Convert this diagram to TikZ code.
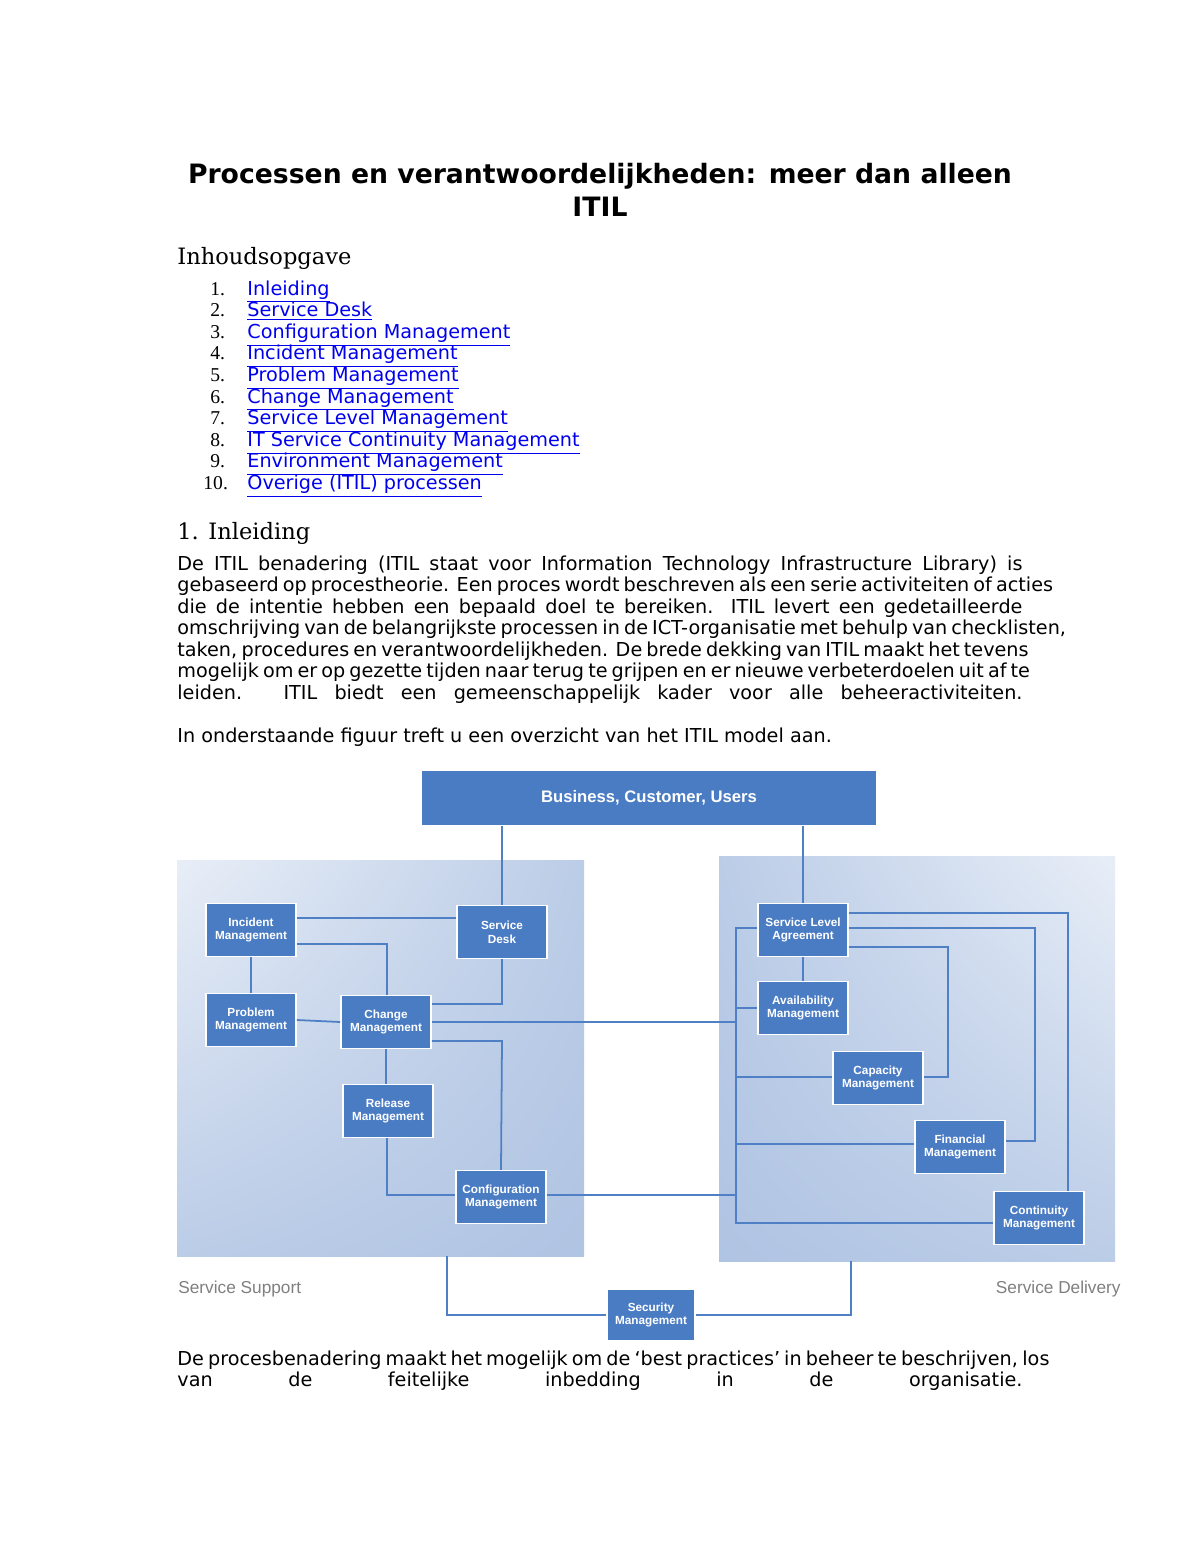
\documentclass[tikz,border=0pt]{standalone}
\usepackage{fontspec}
\usetikzlibrary{shadings}
\setmainfont{DejaVu Sans}
\newfontfamily\ser{Liberation Serif}
\newfontfamily\hser{DejaVu Serif}
\newfontfamily\ar{Liberation Sans}
\definecolor{boxc}{HTML}{4A7CC4}
\definecolor{linec}{HTML}{4F7FC4}
\definecolor{lnk}{HTML}{0000EE}
\definecolor{pl}{HTML}{E8EEF7}
\definecolor{pd}{HTML}{B0C4E3}
\tikzset{
 bx/.style={draw=white,line width=0.8pt,fill=boxc,text=white,font=\ar\bfseries\fontsize{6}{7}\selectfont,align=center,inner sep=0pt},
 ln/.style={draw=linec,line width=0.9pt},
 body/.style={anchor=base west,inner sep=0pt,font=\fontsize{9.8}{11}\selectfont},
 li/.style={anchor=base west,inner sep=0pt,font=\fontsize{9.8}{11}\selectfont,text=lnk},
 num/.style={anchor=base west,inner sep=0pt,font=\ser\fontsize{10}{11}\selectfont}
}
\newcommand{\jl}[1]{\makebox[431pt][s]{#1}}
\begin{document}
\begin{tikzpicture}[x=0.51pt,y=-0.51pt]
\useasboundingbox (0,0) rectangle (1200,1553);
\fill[white] (0,0) rectangle (1200,1553);
% title
\node[anchor=base,inner sep=0pt,font=\bfseries\fontsize{13.6}{16}\selectfont] (t1) at (600,184) {Processen en verantwoordelijkheden: meer dan alleen};
\node[anchor=base,inner sep=0pt,font=\bfseries\fontsize{13.6}{16}\selectfont] (t2) at (600,217) {ITIL};
\node[anchor=base west,inner sep=0pt,font=\hser\fontsize{11.5}{14}\selectfont] (h1) at (177,265) {Inhoudsopgave};
% list
\foreach \n/\t [count=\i] in {1/Inleiding,2/Service Desk,3/Configuration Management,4/Incident Management,5/Problem Management,6/Change Management,7/Service Level Management,8/IT Service Continuity Management,9/Environment Management,10/Overige (ITIL) processen}{
 \node[num] (n\i) at ({\i==10 ? 203 : 210},{295+21.6*(\i-1)}) {\n.};
 \node[li] (l\i) at (247,{295+21.6*(\i-1)}) {\underline{\t}};
}
\node[anchor=base west,inner sep=0pt,font=\hser\fontsize{11.5}{14}\selectfont] (h2) at (177,539) {1. Inleiding};
\node[body] (p1) at (177,570) {\jl{De ITIL benadering (ITIL staat voor Information Technology Infrastructure Library) is}};
\node[body] (p2) at (177,591.5) {\jl{gebaseerd op procestheorie. Een proces wordt beschreven als een serie activiteiten of acties}};
\node[body] (p3) at (177,613) {\jl{die de intentie hebben een bepaald doel te bereiken. ITIL levert een gedetailleerde}};
\node[body] (p4) at (177,634.5) {\jl{omschrijving van de belangrijkste processen in de ICT-organisatie met behulp van checklisten,}};
\node[body] (p5) at (177,656) {\jl{taken, procedures en verantwoordelijkheden. De brede dekking van ITIL maakt het tevens}};
\node[body] (p6) at (177,677.5) {\jl{mogelijk om er op gezette tijden naar terug te grijpen en er nieuwe verbeterdoelen uit af te}};
\node[body] (p7) at (177,699) {\jl{leiden. ITIL biedt een gemeenschappelijk kader voor alle beheeractiviteiten.}};
\node[body] (p8) at (177,742) {In onderstaande figuur treft u een overzicht van het ITIL model aan.};
% panels
\shade[upper left=pl,upper right=pd!80!pl,lower left=pd!80!pl,lower right=pd] (177,860) rectangle (584,1256);
\shade[upper left=pd!80!pl,upper right=pl,lower left=pd,lower right=pd!80!pl] (719,856) rectangle (1115,1261);
\node[anchor=base west,inner sep=0pt,font=\ar\fontsize{8.8}{10}\selectfont,text=gray] (ss) at (178,1293) {Service Support};
\node[anchor=base east,inner sep=0pt,font=\ar\fontsize{8.8}{10}\selectfont,text=gray] (sd) at (1121,1293) {Service Delivery};
% boxes
\node[bx,minimum width=232pt,minimum height=28pt,font=\ar\bfseries\fontsize{8.5}{10}\selectfont] (bcu) at (649,798) {Business, Customer, Users};
\tikzset{s/.style={minimum width=46pt,minimum height=27pt}}
\node[bx,s] (inc) at (251,930) {Incident\\Management};
\node[bx,s] (desk) at (502,932) {Service\\Desk};
\node[bx,s] (prob) at (251,1020) {Problem\\Management};
\node[bx,s] (chg) at (386,1022) {Change\\Management};
\node[bx,s] (rel) at (388,1111) {Release\\Management};
\node[bx,s] (cfg) at (501,1197) {Configuration\\Management};
\node[bx,s] (sla) at (803,930) {Service Level\\Agreement};
\node[bx,s] (avl) at (803,1008) {Availability\\Management};
\node[bx,s] (cap) at (878,1078) {Capacity\\Management};
\node[bx,s] (fin) at (960,1147) {Financial\\Management};
\node[bx,s] (con) at (1039,1218) {Continuity\\Management};
\node[bx,minimum width=45pt,minimum height=26pt] (sec) at (651,1315) {Security\\Management};
% connectors
\coordinate (tr1) at (736,928);
\coordinate (tr2) at (736,1223);
\draw[ln] (bcu.south -| desk) -- (desk.north);
\draw[ln] (bcu.south -| sla) -- (sla.north);
\draw[ln] (inc.east |- 0,918) -- (desk.west |- 0,918);
\draw[ln] (inc.east |- 0,944) -- (387,944) -- (chg.north -| 387,0);
\draw[ln] (inc.south) -- (prob.north);
\draw[ln] (prob.east) -- (chg.west);
\draw[ln] (chg.east) -- (chg.east -| tr1);
\draw[ln] (desk.south) -- (502,1004) -- (chg.east |- 0,1004);
\draw[ln] (chg.east |- 0,1041) -- (502,1041) -- (cfg.north);
\draw[ln] (chg.south) -- (rel.north -| chg.south);
\draw[ln] (rel.south -| 387,0) -- (387,1195) -- (cfg.west |- 0,1195);
\draw[ln] (cfg.east |- 0,1195) -- (736,1195);
\draw[ln] (sla.west |- tr1) -- (tr1) -- (tr2) -- (con.west |- tr2);
\draw[ln] (736,1008) -- (avl.west);
\draw[ln] (736,1077) -- (cap.west |- 0,1077);
\draw[ln] (736,1144) -- (fin.west |- 0,1144);
\draw[ln] (sla.south) -- (avl.north);
\draw[ln] (sla.east |- 0,913) -- (1068,913) -- (con.north -| 1068,0);
\draw[ln] (sla.east |- 0,928) -- (1035,928) -- (1035,1141) -- (fin.east |- 0,1141);
\draw[ln] (sla.east |- 0,947) -- (948,947) -- (948,1077) -- (cap.east |- 0,1077);
\draw[ln] (447,1256) -- (447,1315) -- (sec.west);
\draw[ln] (sec.east) -- (851,1315) -- (851,1261);
% bottom paragraph
\node[body] (q1) at (177,1365) {\jl{De procesbenadering maakt het mogelijk om de ‘best practices’ in beheer te beschrijven, los}};
\node[body] (q2) at (177,1386.5) {\jl{van de feitelijke inbedding in de organisatie.}};
\end{tikzpicture}
\end{document}
